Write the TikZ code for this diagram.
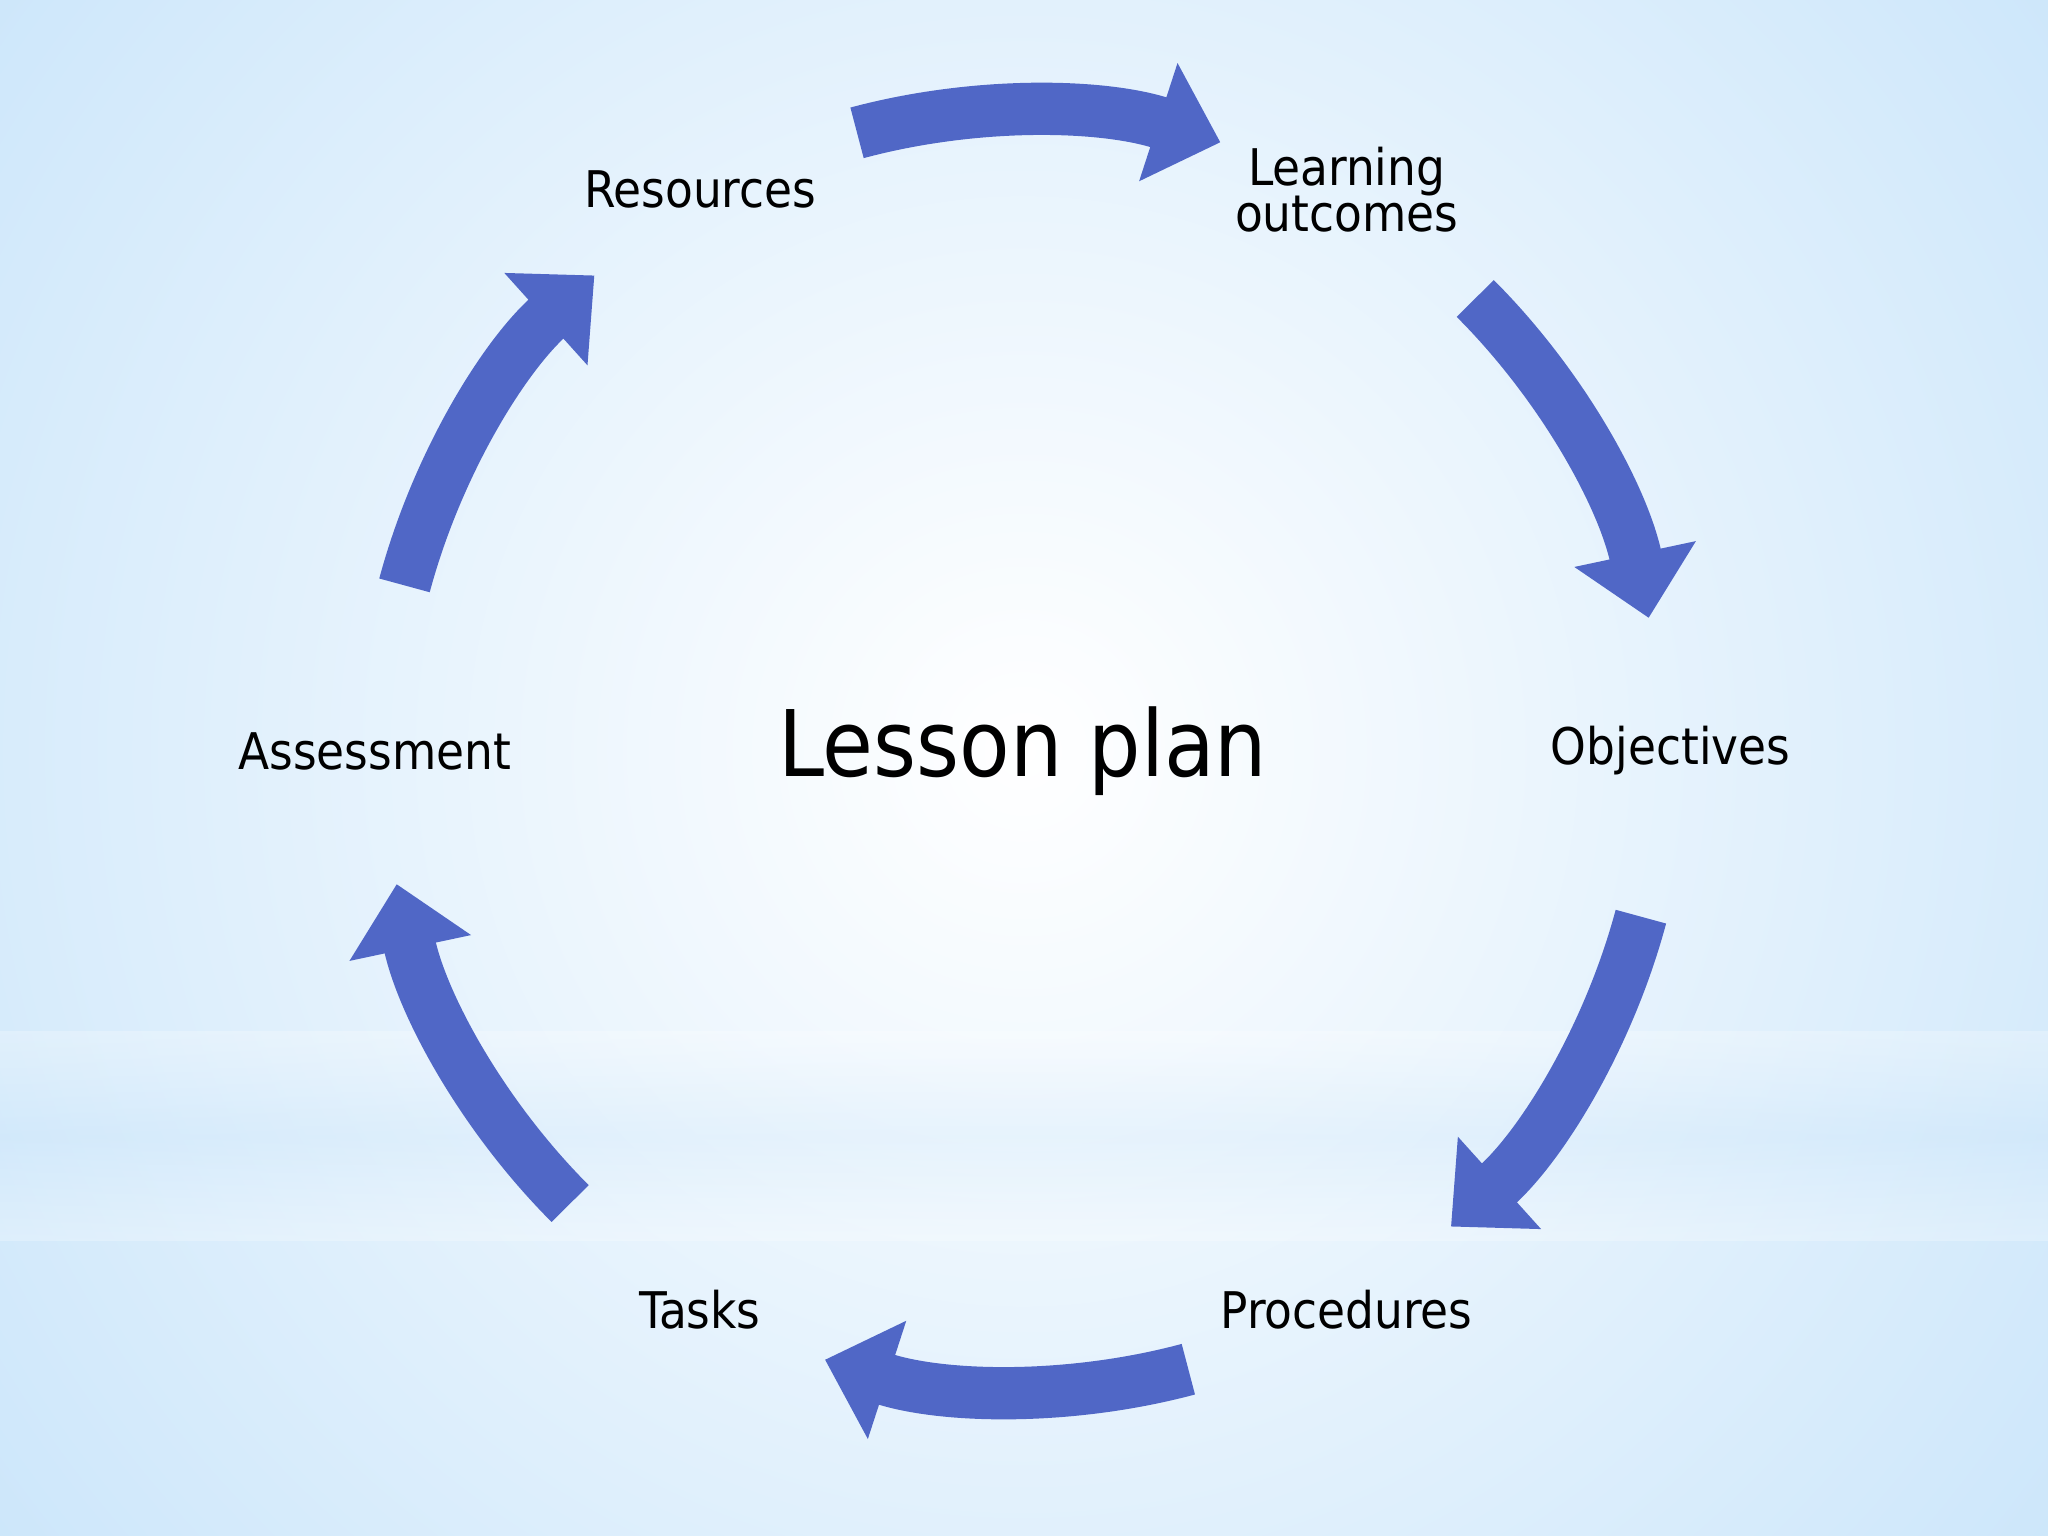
\documentclass[tikz,border=0pt]{standalone}
\usepackage{fontspec}
\setmainfont{DejaVu Sans Condensed}
\usetikzlibrary{arrows.meta,calc}
\definecolor{arr}{HTML}{5067C6}
\definecolor{bgb}{HTML}{A9D5F7}
\begin{document}
\begin{tikzpicture}[x=0.01cm,y=-0.01cm,
  lbl/.style={font=\fontsize{11}{12}\selectfont, align=center},
  cyc/.style={draw=arr, line width=0.4cm, -{Triangle[width=0.92cm,length=0.5cm]}}]
\fill[bgb] (0,0) rectangle (1568,1176);
\begin{scope}
\clip (0,0) rectangle (1568,1176);
\shade[inner color=white, outer color=bgb] (783,575) circle[radius=1700];
\end{scope}
\shade[top color=white, bottom color=white, middle color=bgb!60, opacity=0.25] (0,790) rectangle (1568,950);
\useasboundingbox (0,0) rectangle (1568,1176);
\coordinate (c) at (783,575);
\node[font=\fontsize{20}{24}\selectfont] (lp) at (c) {Lesson plan};
\node[lbl] (res) at (536,145) {Resources};
\node[lbl] (lo) at (1031,145) {Learning\\[-2pt]outcomes};
\node[lbl] (obj) at (1279,575) {Objectives};
\node[lbl] (pro) at (1031,1003) {Procedures};
\node[lbl] (tas) at (536,1003) {Tasks};
\node[lbl] (ass) at (287,575) {Assessment};
\foreach \a in {90,30,-30,-90,-150,150}{
  \draw[cyc] ($(c)+({490*cos(\a+15)},{-490*sin(\a+15)})$) arc[start angle=-(\a+15), end angle=-(\a-18), radius=490];
}
\end{tikzpicture}
\end{document}
